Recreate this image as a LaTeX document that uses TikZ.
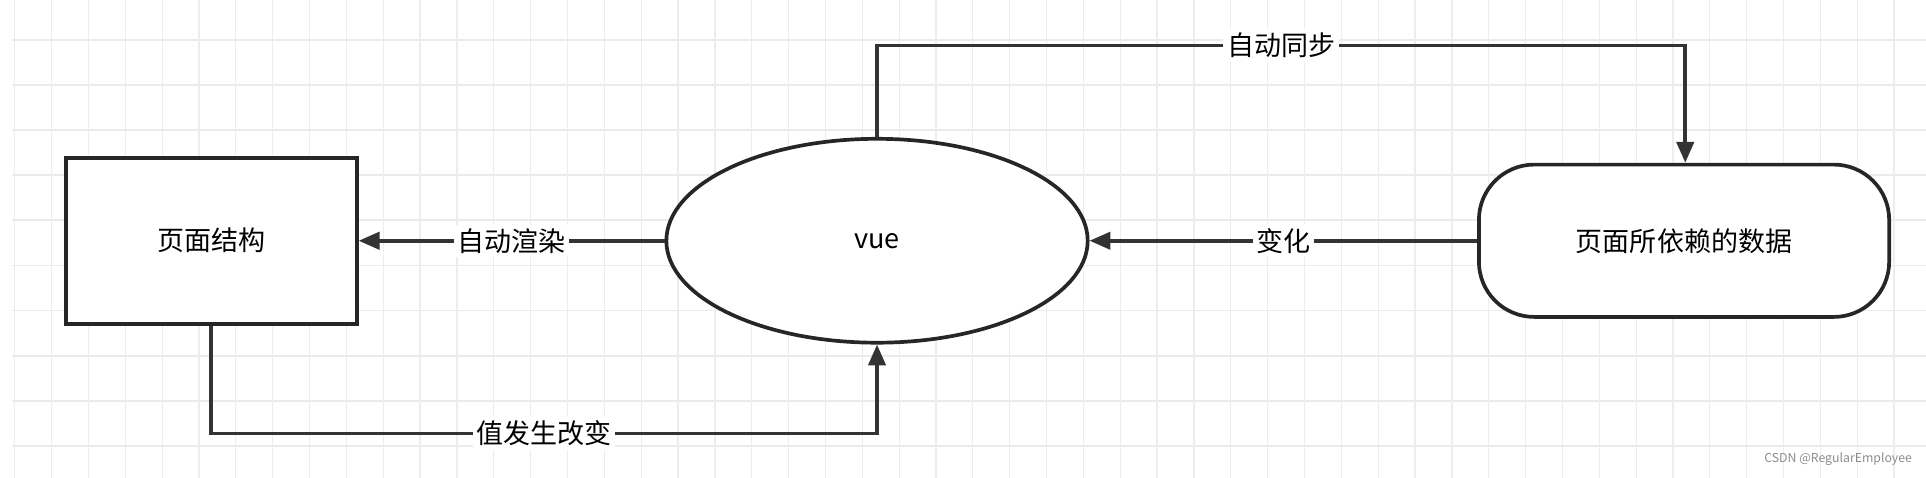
\documentclass[tikz,border=0pt]{standalone}
\usepackage{fontspec}
\setmainfont{Noto Sans CJK SC}
\usetikzlibrary{shapes.geometric,arrows.meta}
\begin{document}
\begin{tikzpicture}[x=1pt,y=-1pt,
  box/.style={draw=black!85,line width=3pt,fill=white,font=\fontsize{22}{26}\selectfont,inner sep=0},
  conn/.style={draw=black!80,line width=3pt,-{Triangle[length=17pt,width=14pt]}},
  lbl/.style={fill=white,font=\fontsize{22}{26}\selectfont,inner sep=3pt}]
\useasboundingbox (0,0) rectangle (1568,389);
\fill[white] (0,0) rectangle (1568,389);
\foreach \y in {32.6,69.3,106,142.7,179.4,216.1,252.8,289.5,326.2,362.9}
  \draw[black!8,line width=1.5pt] (10,\y) -- (1568,\y);
\foreach \x in {12,42,72,102,132,162,192,222,252,282,312,342,372,402,432,462,492,522,552,582,612,642,672,702,732,762,792,822,852,882,912,942,972,1002,1032,1062,1092,1122,1152,1182,1212,1242,1272,1302,1332,1362,1392,1422,1452,1482,1512,1542}
  \draw[black!7,line width=1pt] (\x,0) -- (\x,389);
\node[box,minimum width=237pt,minimum height=135pt] (page) at (172,196) {页面结构};
\node[box,ellipse,minimum width=343pt,minimum height=166pt] (vue) at (714,196) {vue};
\node[box,rounded corners=45pt,minimum width=334pt,minimum height=124pt] (data) at (1371,196) {页面所依赖的数据};
\coordinate (tl) at (714,37);
\coordinate (tr) at (1372,37);
\coordinate (bl) at (172,353);
\coordinate (br) at (714,353);
\draw[conn] (vue.north) -- (tl) -- node[lbl]{自动同步} (tr) -- (data.north -| tr);
\draw[conn] (vue.west) -- node[lbl,pos=0.5]{自动渲染} (page.east);
\draw[conn] (data.west) -- node[lbl,pos=0.5]{变化} (vue.east);
\draw[conn] (page.south) -- (bl) -- node[lbl]{值发生改变} (br) -- (vue.south);
\node[text=black!45,font=\fontsize{10}{12}\selectfont,anchor=east] (wm) at (1560,374) {CSDN @RegularEmployee};
\end{tikzpicture}
\end{document}
